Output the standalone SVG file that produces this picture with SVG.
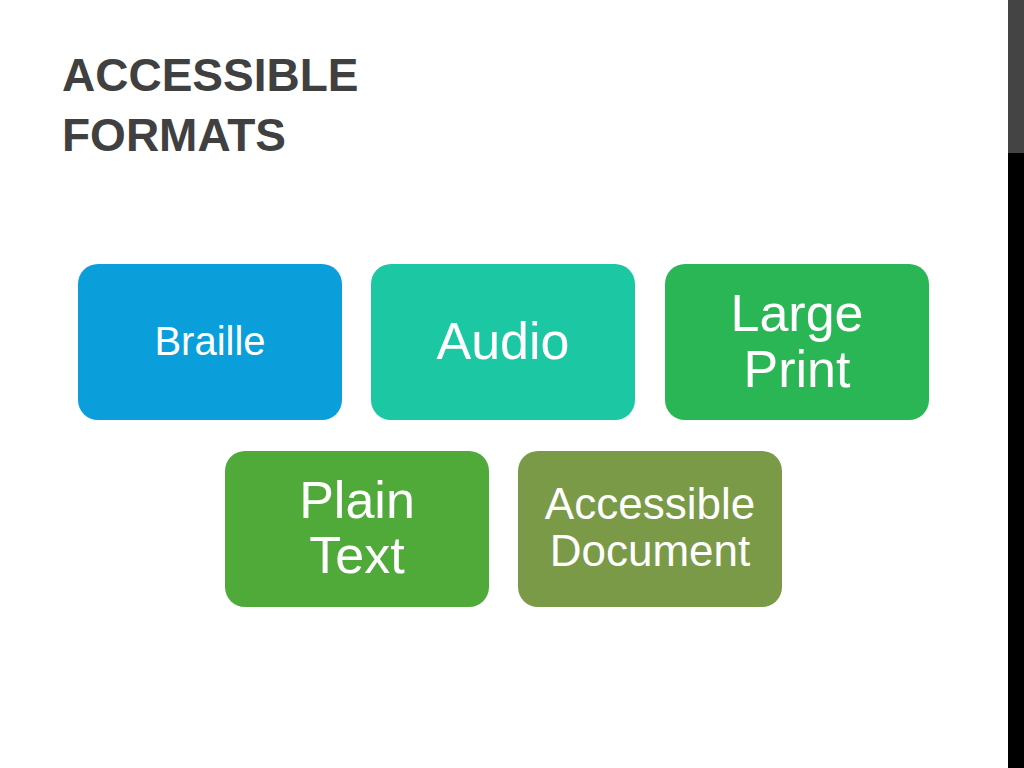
<svg xmlns="http://www.w3.org/2000/svg" width="1024" height="768" viewBox="0 0 1024 768">
<style>
.t{font-family:"Liberation Sans",Arial,sans-serif;fill:#fff;text-anchor:middle}
.h{font-family:"Liberation Sans",Arial,sans-serif;font-weight:bold;fill:#404040;font-size:46px}
</style>
<rect width="1024" height="768" fill="#fff"/>
<rect x="1008" y="0" width="16" height="768" fill="#000"/>
<rect x="1008" y="0" width="16" height="153" fill="#444"/>
<text class="h" x="62" y="91">ACCESSIBLE</text>
<text class="h" x="62" y="151">FORMATS</text>
<g id="braille"><rect x="78" y="264" width="264" height="156" rx="20" fill="#0a9fdb"/><text class="t" x="210" y="355" font-size="40">Braille</text></g>
<g id="audio"><rect x="371" y="264" width="264" height="156" rx="20" fill="#1bc8a3"/><text class="t" x="503" y="359" font-size="52">Audio</text></g>
<g id="largeprint"><rect x="665" y="264" width="264" height="156" rx="20" fill="#2bb655"/><text class="t" x="797" y="331" font-size="52">Large</text><text class="t" x="797" y="387" font-size="52">Print</text></g>
<g id="plaintext"><rect x="225" y="451" width="264" height="156" rx="20" fill="#4faa3a"/><text class="t" x="357" y="518" font-size="52">Plain</text><text class="t" x="357" y="573" font-size="52">Text</text></g>
<g id="accessibledoc"><rect x="518" y="451" width="264" height="156" rx="20" fill="#7b9a48"/><text class="t" x="650" y="519" font-size="44">Accessible</text><text class="t" x="650" y="566" font-size="44">Document</text></g>
<g id="connectors"/>
</svg>
